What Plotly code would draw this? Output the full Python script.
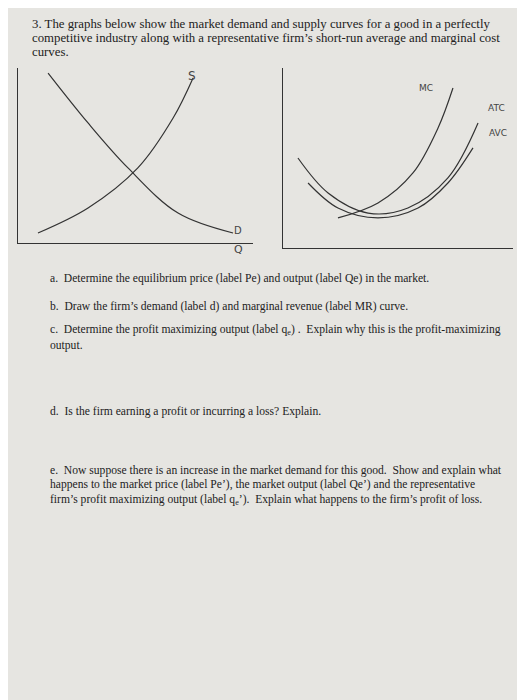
import plotly.graph_objects as go

s_x = [0.85, 2.98, 5.1, 6.6, 7.45]
s_y = [0.57, 2.0, 4.29, 7.14, 9.43]
d_x = [1.28, 2.98, 4.68, 6.81, 9.15]
d_y = [9.71, 6.86, 4.29, 1.71, 0.57]
mc_x = [2.39, 4.13, 5.65, 6.74, 7.39]
mc_y = [1.67, 2.5, 4.17, 6.67, 8.89]
atc_x = [0.65, 1.96, 3.7, 5.43, 7.17, 8.48]
atc_y = [5.0, 3.06, 1.94, 2.22, 3.89, 6.94]
avc_x = [1.09, 2.39, 4.13, 5.87, 7.17, 8.26]
avc_y = [3.61, 2.22, 1.67, 2.22, 3.61, 5.56]

header = ["3. The graphs below show the market demand and supply curves for a good in a perfectly",
          "competitive industry along with a representative firm\u2019s short-run average and marginal cost",
          "curves."]
questions = [
    (270, 40, "a.  Determine the equilibrium price (label Pe) and output (label Qe) in the market."),
    (298, 40, "b.  Draw the firm\u2019s demand (label d) and marginal revenue (label MR) curve."),
    (322, 40, "c.  Determine the profit maximizing output (label q<sub>e</sub>) .  Explain why this is the profit-maximizing"),
    (337, 40, "output."),
    (403, 40, "d.  Is the firm earning a profit or incurring a loss? Explain."),
    (462, 40, "e.  Now suppose there is an increase in the market demand for this good.  Show and explain what"),
    (477, 40, "happens to the market price (label Pe\u2019), the market output (label Qe\u2019) and the representative"),
    (492, 40, "firm\u2019s profit maximizing output (label q<sub>e</sub>\u2019).  Explain what happens to the firm\u2019s profit of loss."),
]

W, H = 525, 700
fig = go.Figure()
line = dict(color="#333", width=1.2, shape="spline")
fig.add_trace(go.Scatter(x=s_x, y=s_y, mode="lines", line=line, xaxis="x", yaxis="y"))
fig.add_trace(go.Scatter(x=d_x, y=d_y, mode="lines", line=line, xaxis="x", yaxis="y"))
for xs, ys in [(mc_x, mc_y), (atc_x, atc_y), (avc_x, avc_y)]:
    fig.add_trace(go.Scatter(x=xs, y=ys, mode="lines", line=line, xaxis="x2", yaxis="y2"))

ax = dict(showline=True, linecolor="#333", linewidth=1.2, showgrid=False, zeroline=False,
          showticklabels=False, ticks="", range=[0, 10], fixedrange=True)
fig.update_layout(
    width=W, height=H, margin=dict(l=0, r=0, t=0, b=0), showlegend=False,
    paper_bgcolor="#e6e5e1", plot_bgcolor="rgba(0,0,0,0)",
    xaxis=dict(ax, domain=[10/W, 245/W]), yaxis=dict(ax, domain=[1-235/H, 1-60/H]),
    xaxis2=dict(ax, domain=[275/W, 505/W]), yaxis2=dict(ax, domain=[1-240/H, 1-60/H]),
)
fig.layout.yaxis2.anchor = "x2"
fig.layout.xaxis2.anchor = "y2"

serif = dict(family="Liberation Serif", color="#222")
def txt(px, py, t, size=11, xanchor="left", fam=serif):
    fig.add_annotation(x=px/W, y=1-py/H, xref="paper", yref="paper", text=t, showarrow=False,
                       xanchor=xanchor, yanchor="middle", font=dict(fam, size=size))

for i, t in enumerate(header):
    txt(22, 16 + i*14, t, size=12.8)
for py, px, t in questions:
    txt(px, py, t, size=11.6)

hand = dict(family="DejaVu Sans", color="#444")
txt(184, 68, "S", 12, "center", hand)
txt(230, 222, "D", 10, "center", hand)
txt(230, 242, "Q", 11, "center", hand)
txt(418, 80, "MC", 9, "center", hand)
txt(488, 100, "ATC", 9, "center", hand)
txt(490, 125, "AVC", 9, "center", hand)
txt(513, 235, "q", 14, "center", hand)

fig.write_html("out.html")
